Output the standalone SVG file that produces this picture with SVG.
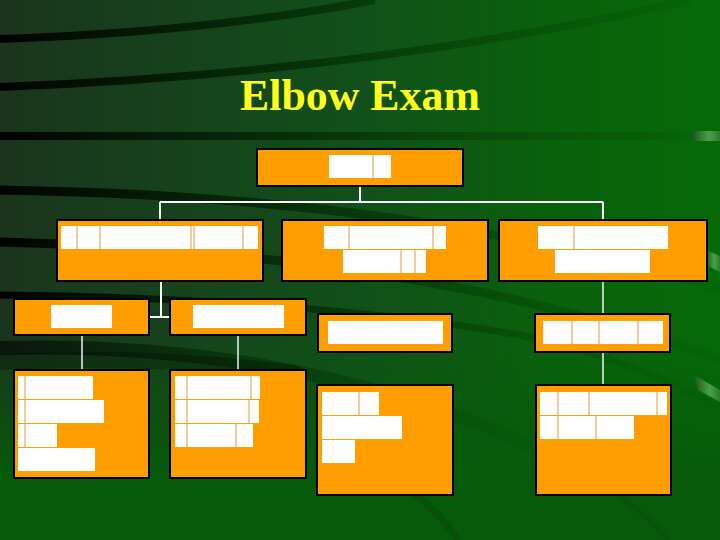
<svg xmlns="http://www.w3.org/2000/svg" width="720" height="540" viewBox="0 0 720 540">
<defs>
<linearGradient id="bg" x1="0" y1="0" x2="1" y2="0">
<stop offset="0" stop-color="#1b341d"/>
<stop offset="0.5" stop-color="#11501a"/>
<stop offset="0.75" stop-color="#0a600c"/>
<stop offset="1" stop-color="#066a08"/>
</linearGradient>
<linearGradient id="bottom" x1="0" y1="0" x2="0" y2="1">
<stop offset="0.62" stop-color="#065a0a" stop-opacity="0"/>
<stop offset="0.88" stop-color="#065a0a" stop-opacity="1"/>
</linearGradient>
<linearGradient id="fade" gradientUnits="userSpaceOnUse" x1="0" y1="0" x2="720" y2="0">
<stop offset="0" stop-color="#000" stop-opacity="0.95"/>
<stop offset="0.45" stop-color="#012a02" stop-opacity="0.7"/>
<stop offset="1" stop-color="#045a06" stop-opacity="0.25"/>
</linearGradient>
<linearGradient id="fade2" gradientUnits="userSpaceOnUse" x1="0" y1="0" x2="600" y2="0">
<stop offset="0" stop-color="#000" stop-opacity="0.6"/>
<stop offset="0.5" stop-color="#012a02" stop-opacity="0.45"/>
<stop offset="1" stop-color="#045a06" stop-opacity="0.1"/>
</linearGradient>
<linearGradient id="streak" x1="0" y1="0" x2="1" y2="0">
<stop offset="0" stop-color="#1a5a1a"/>
<stop offset="0.6" stop-color="#4aa04a"/>
<stop offset="1" stop-color="#2a7a2a"/>
</linearGradient>
<style>
.box{fill:#ff9e00;stroke:#000;stroke-width:2}
.cell{fill:#fff}
.dv{stroke:#e6ad5a;stroke-width:1.2}
.conn{stroke:#fff;stroke-width:2;fill:none}
.thin{stroke:#fff;stroke-width:1.4;fill:none}
.band{fill:none;stroke:url(#fade)}
.title{font-family:"Liberation Serif","Times New Roman",serif;font-weight:bold;font-size:44px;fill:#ffff1a}
</style>
</defs>
<g id="background">
<rect width="720" height="540" fill="url(#bg)"/>
<rect width="720" height="540" fill="url(#bottom)"/>
<path class="band" d="M0,39 Q210,32 375,0" stroke-width="8"/>
<path class="band" d="M0,87 Q380,72 690,0" stroke-width="8"/>
<path class="band" d="M0,136 L720,136" stroke-width="8"/>
<path class="band" d="M0,190 Q300,195 520,240 Q640,262 720,290" stroke-width="9"/>
<path class="band" d="M0,242 Q260,248 480,292 Q620,322 720,360" stroke-width="9"/>
<path class="band" d="M0,295 Q300,298 520,335 Q640,360 720,410" stroke-width="7"/>
<path d="M0,348 Q280,340 520,440 Q590,480 620,540" stroke="url(#fade2)" stroke-width="14" fill="none"/>
<path d="M0,362 Q150,354 300,374" stroke="#000" stroke-opacity="0.25" stroke-width="16" fill="none"/>
<path d="M410,490 Q440,512 458,540" stroke="#0a4a0a" stroke-width="7" fill="none" opacity="0.6"/>
<path d="M610,490 Q645,512 668,540" stroke="#0a4a0a" stroke-width="6" fill="none" opacity="0.4"/>
<path d="M693,131 L720,131 L720,141 L693,141 Z" fill="url(#streak)"/>
<path d="M706,250 L720,256 L720,272 L708,266 Z" fill="url(#streak)"/>
<path d="M694,375 L720,390 L720,402 L698,390 Z" fill="url(#streak)"/>
</g>
<text class="title" x="360" y="110" text-anchor="middle" textLength="240" lengthAdjust="spacingAndGlyphs">Elbow Exam</text>
<g id="connectors">
<path class="conn" d="M360,186 V202 M160,202 H603 M160,202 V220 M603,202 V220"/>
<path class="conn" d="M161,281 V317 M150,317 H170"/>
<path class="thin" d="M603,281 V314 M603,352 V385 M82,335 V370 M238,335 V370"/>
</g>
<g id="node-top">
<rect class="box" x="257" y="149" width="206" height="37"/>
<rect class="cell" x="329" y="155" width="62" height="23"/>
<line class="dv" x1="373" y1="155" x2="373" y2="178"/>
</g>
<g id="node-a">
<rect class="box" x="57" y="220" width="206" height="61"/>
<rect class="cell" x="61" y="226" width="197" height="23"/>
<path class="dv" d="M77,226V249M100,226V249M191,226V249M194,226V249M243,226V249"/>
</g>
<g id="node-b">
<rect class="box" x="282" y="220" width="206" height="61"/>
<rect class="cell" x="324" y="226" width="122" height="23"/>
<rect class="cell" x="343" y="250" width="83" height="23"/>
<path class="dv" d="M349,226V249M433,226V249M401,250V273M415,250V273"/>
</g>
<g id="node-c">
<rect class="box" x="499" y="220" width="208" height="61"/>
<rect class="cell" x="538" y="226" width="130" height="23"/>
<rect class="cell" x="555" y="250" width="95" height="23"/>
<path class="dv" d="M574,226V249"/>
</g>
<g id="node-d1">
<rect class="box" x="14" y="299" width="135" height="36"/>
<rect class="cell" x="51" y="305" width="61" height="23"/>
</g>
<g id="node-d2">
<rect class="box" x="170" y="299" width="136" height="36"/>
<rect class="cell" x="193" y="305" width="91" height="23"/>
</g>
<g id="node-e">
<rect class="box" x="318" y="314" width="134" height="38"/>
<rect class="cell" x="328" y="321" width="115" height="23"/>
</g>
<g id="node-f">
<rect class="box" x="535" y="314" width="135" height="38"/>
<rect class="cell" x="543" y="321" width="120" height="23"/>
<path class="dv" d="M572,321V344M599,321V344M638,321V344"/>
</g>
<g id="node-g">
<rect class="box" x="14" y="370" width="135" height="108"/>
<rect class="cell" x="18" y="376" width="75" height="23"/>
<rect class="cell" x="18" y="400" width="86" height="23"/>
<rect class="cell" x="18" y="424" width="39" height="23"/>
<rect class="cell" x="18" y="448" width="77" height="23"/>
<path class="dv" d="M25,376V447"/>
</g>
<g id="node-h">
<rect class="box" x="170" y="370" width="136" height="108"/>
<rect class="cell" x="175" y="376" width="85" height="23"/>
<rect class="cell" x="175" y="400" width="84" height="23"/>
<rect class="cell" x="175" y="424" width="78" height="23"/>
<path class="dv" d="M187,376V447M251,376V399M249,400V423M236,424V447"/>
</g>
<g id="node-i">
<rect class="box" x="317" y="385" width="136" height="110"/>
<rect class="cell" x="322" y="392" width="57" height="23"/>
<rect class="cell" x="322" y="416" width="80" height="23"/>
<rect class="cell" x="322" y="440" width="33" height="23"/>
<path class="dv" d="M359,392V415"/>
</g>
<g id="node-j">
<rect class="box" x="536" y="385" width="135" height="110"/>
<rect class="cell" x="540" y="392" width="127" height="23"/>
<rect class="cell" x="540" y="416" width="94" height="23"/>
<path class="dv" d="M558,392V439M589,392V415M657,392V415M596,416V439"/>
</g>
</svg>
